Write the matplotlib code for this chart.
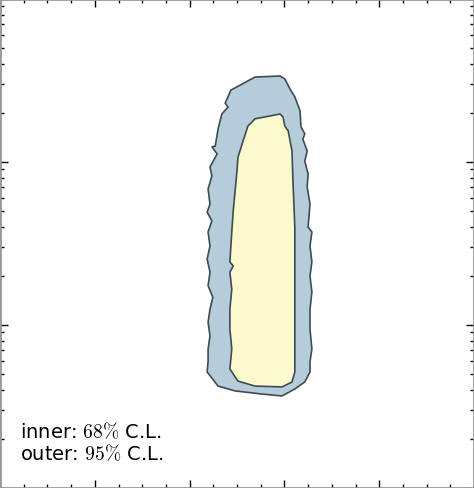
import matplotlib
matplotlib.use("Agg")
import matplotlib.pyplot as plt
from matplotlib.ticker import MultipleLocator, LogLocator, NullFormatter

plt.rcParams["mathtext.fontset"] = "cm"

# Outer (95% C.L.) contour
outer_x = [5.38, 5.91, 6.01, 6.12, 6.22, 6.33, 6.35, 6.43, 6.39, 6.48, 6.43, 6.50, 6.48, 6.54,
           6.50, 6.58, 6.54, 6.58, 6.54, 6.58, 6.54, 6.54, 6.58, 6.54, 6.54, 6.43, 6.22, 5.95,
           5.53, 4.96, 4.60, 4.37, 4.39, 4.39, 4.43, 4.39, 4.43, 4.49, 4.39, 4.43, 4.37, 4.43,
           4.39, 4.47, 4.37, 4.43, 4.39, 4.47, 4.43, 4.58, 4.47, 4.54, 4.60, 4.68, 4.81, 4.75,
           4.81, 4.87]
outer_y = [3.32, 3.37, 3.23, 2.80, 2.51, 2.06, 1.64, 1.49, 1.38, 1.17, 1.01, 0.845, 0.703, 0.552,
           0.399, 0.372, 0.305, 0.244, 0.200, 0.159, 0.125, 0.0945, 0.0713, 0.0593, 0.0515,
           0.0447, 0.0405, 0.0367, 0.0377, 0.0394, 0.0422, 0.0515, 0.0601, 0.0713, 0.0856,
           0.104, 0.125, 0.148, 0.174, 0.211, 0.254, 0.305, 0.372, 0.435, 0.493, 0.552, 0.683,
           0.820, 0.932, 1.12, 1.24, 1.25, 1.59, 1.97, 2.17, 2.30, 2.51, 2.76]

# Inner (68% C.L.) contour
inner_x = [5.38, 5.91, 5.97, 6.01, 6.08, 6.16, 6.18, 6.22, 6.22, 6.22, 6.22, 6.16, 5.95, 5.38,
           5.02, 4.85, 4.89, 4.85, 4.85, 4.89, 4.85, 4.92, 4.85, 4.89, 4.92, 4.96, 5.00, 5.02,
           5.13, 5.23]
inner_y = [1.84, 1.97, 1.89, 1.66, 1.55, 1.17, 0.765, 0.399, 0.192, 0.0945, 0.0515, 0.0447,
           0.0417, 0.0422, 0.0453, 0.0537, 0.0713, 0.0945, 0.125, 0.166, 0.211, 0.230, 0.244,
           0.372, 0.500, 0.664, 0.881, 1.07, 1.35, 1.66]

labels = ["inner: $68\\%$ C.L.", "outer: $95\\%$ C.L."]

fig = plt.figure(figsize=(4.74, 4.89), dpi=100)
ax = fig.add_axes([0, 0, 1, 1])

ax.fill(outer_x, outer_y, facecolor="#b5cddb", edgecolor="#3f4b52", linewidth=1.2, zorder=2)
ax.fill(inner_x, inner_y, facecolor="#fcfacd", edgecolor="#3f4b52", linewidth=1.2, zorder=3)

ax.set_xlim(0, 10)
ax.set_yscale("log")
ax.set_ylim(1e-2, 1e1)

ax.xaxis.set_major_locator(MultipleLocator(2))
ax.xaxis.set_minor_locator(MultipleLocator(0.5))
ax.yaxis.set_major_locator(LogLocator(base=10))
ax.yaxis.set_minor_locator(LogLocator(base=10, subs=range(2, 10)))
ax.tick_params(which="both", direction="in", top=True, right=True,
               labelbottom=False, labelleft=False, labeltop=False, labelright=False)
ax.tick_params(which="major", length=6, width=1.0)
ax.tick_params(which="minor", length=3.2, width=1.0)
ax.yaxis.set_minor_formatter(NullFormatter())
for s in ax.spines.values():
    s.set_color("#999999")
    s.set_linewidth(2)

ax.text(0.042, 0.104, labels[0], transform=ax.transAxes, fontsize=14, va="baseline", ha="left")
ax.text(0.042, 0.059, labels[1], transform=ax.transAxes, fontsize=14, va="baseline", ha="left")

fig.savefig("out.png", dpi=100)
